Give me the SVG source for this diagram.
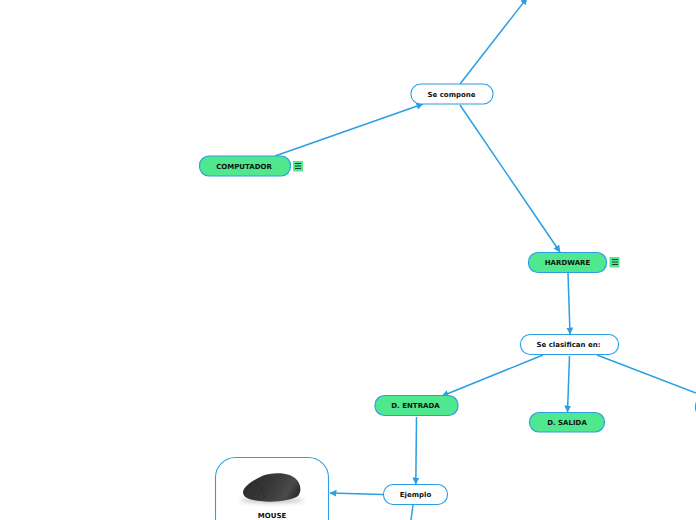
<svg xmlns="http://www.w3.org/2000/svg" width="696" height="520" viewBox="0 0 696 520">
<style>
.c{fill:none;stroke:#2A9FE3;stroke-width:1.5}
.g{fill:#4FE88F;stroke:#2A9FE3;stroke-width:1.2}
.w{fill:#fff;stroke:#2A9FE3;stroke-width:1.1}
text{font-family:"DejaVu Sans",sans-serif;font-weight:700;font-size:7px;fill:#111;text-anchor:middle}
.ib{fill:#4FE88F}
.il{stroke:#1c3b30;stroke-width:1;fill:none}
</style>
<defs>
<marker id="a" markerUnits="userSpaceOnUse" markerWidth="8" markerHeight="8" refX="6.500" refY="3.500" orient="auto"><path d="M0 0L7 3.500L0 7Z" fill="#2A9FE3"/></marker>
<linearGradient id="m" x1="0" y1="0.2" x2="1" y2="0.5"><stop offset="0" stop-color="#2a2a2a"/><stop offset=".5" stop-color="#383838"/><stop offset=".85" stop-color="#4a4a4a"/><stop offset="1" stop-color="#303030"/></linearGradient>
<filter id="b" x="-20%" y="-150%" width="140%" height="400%"><feGaussianBlur stdDeviation="2"/></filter>
<filter id="s" x="-5%" y="-5%" width="110%" height="110%"><feGaussianBlur stdDeviation=".6"/></filter>
</defs>
<g id="connectors">
<path class="c" marker-end="url(#a)" d="M275 156L423 104"/>
<path class="c" marker-end="url(#a)" d="M460 84L527 -2"/>
<path class="c" marker-end="url(#a)" d="M460 105L560 252"/>
<path class="c" marker-end="url(#a)" d="M568 273L570 334"/>
<path class="c" d="M543 355L442 396" marker-end="url(#a)"/>
<path class="c" marker-end="url(#a)" d="M569.500 356L567.500 412"/>
<path class="c" d="M597 355L696 393"/>
<path class="c" marker-end="url(#a)" d="M416.500 417L415.800 484"/>
<path class="c" marker-end="url(#a)" d="M383 494.500L330 493"/>
<path class="c" d="M413 505L411 520"/>
</g>
<g id="computador"><rect class="g" x="199.500" y="156" width="91" height="20" rx="9.500"/><text x="244" y="169">COMPUTADOR</text>
<rect class="ib" x="293" y="161" width="10" height="10.500" rx="1"/><path class="il" d="M295 163.500h6M295 166h6M295 168.500h6"/></g>
<g id="se-compone"><rect class="w" x="411" y="84" width="82" height="20" rx="9.500"/><text x="451.500" y="97">Se compone</text></g>
<g id="hardware"><rect class="g" x="528.500" y="252.500" width="78" height="20" rx="9.500"/><text x="567.500" y="265">HARDWARE</text>
<rect class="ib" x="609.500" y="257" width="10" height="10.500" rx="1"/><path class="il" d="M612 259.500h6M612 262h6M612 264.500h6"/></g>
<g id="se-clasifican"><rect class="w" x="520.500" y="334.500" width="98" height="20" rx="9.500"/><text x="568.500" y="347">Se clasifican en:</text></g>
<g id="d-entrada"><rect class="g" x="375" y="395.500" width="83" height="20" rx="9.500"/><text x="415.500" y="408">D. ENTRADA</text></g>
<g id="d-salida"><rect class="g" x="529.500" y="412.500" width="75" height="19.500" rx="9.500"/><text x="567" y="425">D. SALIDA</text></g>
<g id="right-node"><rect class="g" x="695.500" y="397" width="40" height="20" rx="9.500"/></g>
<g id="ejemplo"><rect class="w" x="383.500" y="484.500" width="64" height="20" rx="9.500"/><text x="415.500" y="497">Ejemplo</text></g>
<g id="mouse"><rect class="w" x="215.500" y="457.500" width="113" height="80" rx="20"/>
<ellipse cx="272" cy="500.500" rx="32" ry="2.500" fill="#999" opacity=".6" filter="url(#b)"/>
<path filter="url(#s)" fill="url(#m)" d="M243 492C244 486 252 481 262 476C272 472 288 472 295 478C301 483 302 491 298 496C292 500 275 503 260 501C250 500 243 498 243 492Z"/>
<path d="M254 481C259 485 263 491 265 498" fill="none" stroke="#1c1c1c" stroke-width=".6" opacity=".6"/>
<text x="272" y="518.300">MOUSE</text></g>
</svg>
